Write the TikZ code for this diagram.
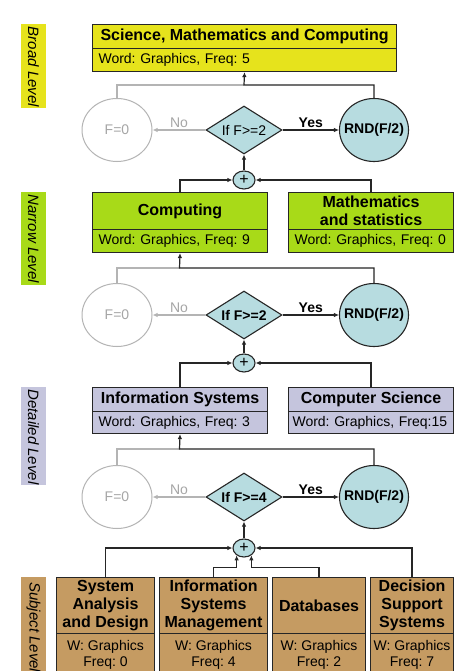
\documentclass[tikz,border=0pt]{standalone}
\usepackage{fontspec}
\setmainfont{Liberation Sans}
\usetikzlibrary{shapes.geometric,arrows.meta}
\definecolor{cyel}{HTML}{E6E31C}
\definecolor{cgrn}{HTML}{A8DA18}
\definecolor{cpur}{HTML}{C5C5DD}
\definecolor{cbrn}{HTML}{C59B62}
\definecolor{cblue}{HTML}{B7DCE0}
\definecolor{cbord}{HTML}{262626}
\definecolor{cgrayl}{HTML}{B4B4B4}
\definecolor{cgrayt}{HTML}{A6A6A6}
\frenchspacing
\begin{document}
\frenchspacing
\begin{tikzpicture}[x=1pt,y=-1pt,
  boxline/.style={draw=cbord, line width=1.1pt},
  ttl/.style={boxline, inner sep=0pt, font=\fontsize{16}{18}\selectfont\bfseries, align=center, anchor=north west},
  wrd/.style={boxline, inner xsep=6pt, inner ysep=0pt, font=\fontsize{14}{16}\selectfont, anchor=north west, align=left},
  swrd/.style={boxline, inner sep=0pt, font=\fontsize{14}{16}\selectfont, anchor=north west, align=center},
  decis/.style={diamond, draw=cbord, fill=cblue, aspect=1.58, minimum width=76pt, minimum height=48pt, inner sep=0pt, font=\fontsize{14}{16}\selectfont, line width=1.1pt},
  rndn/.style={ellipse, draw=cbord, fill=cblue, minimum width=69pt, minimum height=63pt, inner sep=0pt, line width=1.1pt, font=\fontsize{14}{16}\selectfont\bfseries},
  fzero/.style={ellipse, draw=cgrayl, minimum width=70pt, minimum height=63pt, inner sep=0pt, line width=1pt, text=cgrayt, font=\fontsize{14}{16}\selectfont},
  plusn/.style={ellipse, draw=cbord, fill=cblue, minimum width=22pt, minimum height=18pt, inner sep=0pt, line width=1.1pt, font=\fontsize{16}{16}\selectfont},
  arr/.style={draw=cbord, line width=1.2pt, -{Latex[length=5pt,width=4.5pt]}},
  garr/.style={draw=cgrayl, line width=1.2pt, -{Latex[length=5pt,width=4.5pt]}},
  gline/.style={draw=cgrayl, line width=1.2pt},
  yeslab/.style={font=\fontsize{14}{16}\selectfont\bfseries, above, inner sep=2pt},
  nolab/.style={font=\fontsize{14}{16}\selectfont, text=cgrayt, above, inner sep=2pt},
  side/.style={font=\fontsize{15}{15}\selectfont\itshape, rotate=-90, inner sep=0pt}
]
\clip (0,0) rectangle (474,671);
\fill[white] (0,0) rectangle (474,671);

% side labels
\fill[cyel] (21,24) rectangle (46,108);
\node[side] (lb1) at (33.5,67) {Broad Level};
\fill[cgrn] (21,192) rectangle (46,285);
\node[side] (lb2) at (33.5,239) {Narrow Level};
\fill[cpur] (21,387) rectangle (46,485);
\node[side] (lb3) at (33.5,437) {Detailed Level};
\fill[cbrn] (21,577) rectangle (46,690);
\node[side, anchor=west] (lb4) at (33.5,582) {Subject Level};

% Broad level box
\node[ttl, fill=cyel, minimum width=304pt, minimum height=24pt] (t1) at (92,24) {Science, Mathematics and Computing};
\node[wrd, fill=cyel, minimum height=23pt, text width=292pt] (w1) at (92,48) {Word: Graphics, Freq: 5};

% decision row 1
\node[fzero] (f1) at (117,130) {F=0};
\node[decis] (d1) at (244,130) {If F>=2};
\node[rndn] (r1) at (374,130) {\makebox[0pt]{RND(F/2)}};
\node[plusn] (p1) at (244,180) {+};
\coordinate (j1) at (244,85);
\draw[garr] (d1.west) -- (f1.east) node[nolab, midway] {No};
\draw[arr] (d1.east) -- (r1.west) node[yeslab, midway] {Yes};
\draw[gline] (f1.north) |- (j1);
\draw[arr] (r1.north) |- (j1) -- (w1.south);
\draw[arr] (p1.north) -- (d1.south);

% Narrow level boxes
\node[ttl, fill=cgrn, minimum width=175pt, minimum height=37pt] (t2) at (92,192) {Computing};
\node[wrd, fill=cgrn, minimum height=23pt, text width=163pt] (w2) at (92,229) {Word: Graphics, Freq: 9};
\node[ttl, fill=cgrn, minimum width=165pt, minimum height=37pt] (t3) at (288,192) {Mathematics\\and statistics};
\node[wrd, fill=cgrn, minimum height=23pt, text width=153pt] (w3) at (288,229) {\mbox{Word: Graphics, Freq: 0}};
\draw[arr] (t2.north) |- (p1.west);
\draw[arr] (t3.north) |- (p1.east);

% decision row 2
\node[fzero] (f2) at (117,315) {F=0};
\node[decis, font=\fontsize{14}{16}\selectfont\bfseries] (d2) at (244,315) {If F>=2};
\node[rndn] (r2) at (374,315) {\makebox[0pt]{RND(F/2)}};
\node[plusn] (p2) at (244,363) {+};
\coordinate (j2) at (179.5,268);
\draw[garr] (d2.west) -- (f2.east) node[nolab, midway] {No};
\draw[arr] (d2.east) -- (r2.west) node[yeslab, midway] {Yes};
\draw[gline] (f2.north) |- (j2);
\draw[arr] (r2.north) |- (j2) -- (w2.south);
\draw[arr] (p2.north) -- (d2.south);

% Detailed level boxes
\node[ttl, fill=cpur, minimum width=175pt, minimum height=24pt] (t4) at (92,387) {Information Systems};
\node[wrd, fill=cpur, minimum height=22pt, text width=163pt] (w4) at (92,411) {Word: Graphics, Freq: 3};
\node[ttl, fill=cpur, minimum width=165pt, minimum height=24pt] (t5) at (288,387) {Computer Science};
\node[wrd, fill=cpur, minimum height=22pt, inner xsep=4pt, text width=157pt] (w5) at (288,411) {\mbox{Word: Graphics, Freq:15}};
\draw[arr] (t4.north) |- (p2.west);
\draw[arr] (t5.north) |- (p2.east);

% decision row 3
\node[fzero] (f3) at (117,497) {F=0};
\node[decis, font=\fontsize{14}{16}\selectfont\bfseries] (d3) at (244,497) {If F>=4};
\node[rndn] (r3) at (374,497) {\makebox[0pt]{RND(F/2)}};
\node[plusn] (p3) at (244,548) {+};
\coordinate (j3) at (179.5,449);
\draw[garr] (d3.west) -- (f3.east) node[nolab, midway] {No};
\draw[arr] (d3.east) -- (r3.west) node[yeslab, midway] {Yes};
\draw[gline] (f3.north) |- (j3);
\draw[arr] (r3.north) |- (j3) -- (w4.south);
\draw[arr] (p3.north) -- (d3.south);

% Subject level boxes
\node[ttl, fill=cbrn, minimum width=98pt, minimum height=56pt] (s1) at (56,577) {System\\Analysis\\and Design};
\node[swrd, fill=cbrn, minimum width=98pt, minimum height=42pt] (v1) at (56,633) {W: Graphics\\Freq: 0};
\node[ttl, fill=cbrn, minimum width=108pt, minimum height=56pt] (s2) at (159,577) {Information\\Systems\\Management};
\node[swrd, fill=cbrn, minimum width=108pt, minimum height=42pt] (v2) at (159,633) {W: Graphics\\Freq: 4};
\node[ttl, fill=cbrn, minimum width=93pt, minimum height=56pt] (s3) at (272,577) {Databases};
\node[swrd, fill=cbrn, minimum width=93pt, minimum height=42pt] (v3) at (272,633) {W: Graphics\\Freq: 2};
\node[ttl, fill=cbrn, minimum width=83pt, minimum height=56pt] (s4) at (370,577) {Decision\\Support\\Systems};
\node[swrd, fill=cbrn, minimum width=83pt, minimum height=42pt] (v4) at (370,633) {W: Graphics\\Freq: 7};
\draw[arr] (s1.north) |- (p3.west);
\draw[arr] (s4.north) |- (p3.east);
\draw[arr] (s2.north) |- ([yshift=-12pt]p3.-135) -- (p3.-135);
\draw[arr] (s3.north) |- ([yshift=-12pt]p3.-45) -- (p3.-45);
\end{tikzpicture}
\end{document}
